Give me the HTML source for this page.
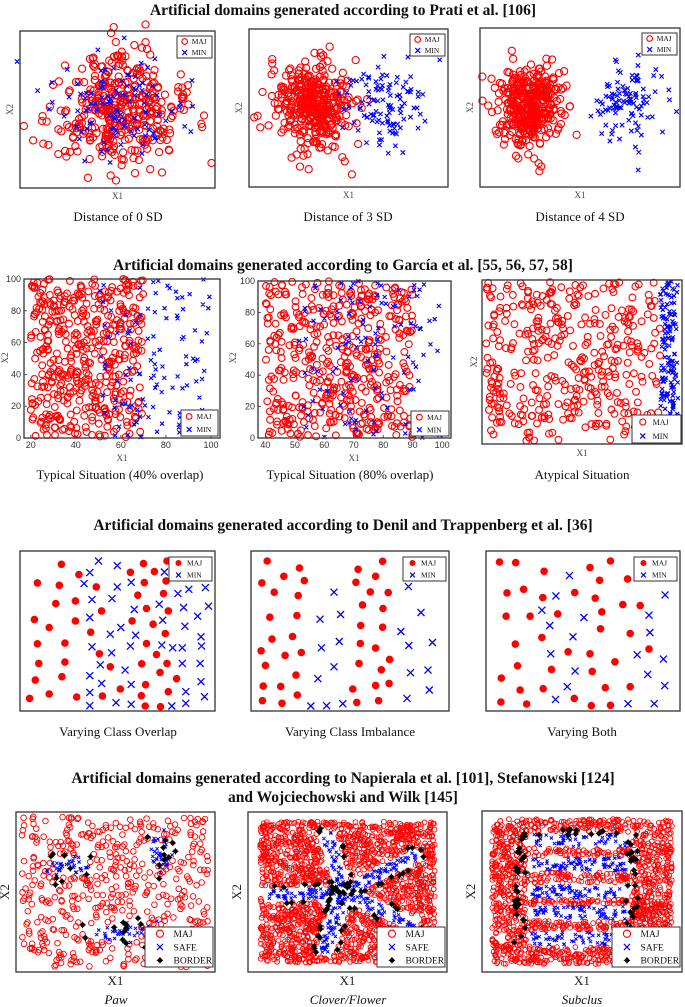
<!DOCTYPE html>
<html><head><meta charset="utf-8">
<style>
html,body{margin:0;padding:0;background:#fff;}
svg{display:block;font-family:"Liberation Serif",serif;}
</style></head>
<body>
<svg id="fig" width="685" height="1007" viewBox="0 0 685 1007" xmlns="http://www.w3.org/2000/svg">
<rect x="0" y="0" width="685" height="1007" fill="#fff"/>
<g font-weight="bold" font-size="15.5" text-anchor="middle" fill="#111">
<text x="343" y="15">Artificial domains generated according to Prati et al. [106]</text>
<text x="343" y="270">Artificial domains generated according to García et al. [55, 56, 57, 58]</text>
<text x="343" y="530">Artificial domains generated according to Denil and Trappenberg et al. [36]</text>
<text x="343" y="783">Artificial domains generated according to Napierala et al. [101], Stefanowski [124]</text>
<text x="343" y="802">and Wojciechowski and Wilk [145]</text>
</g>
<g font-size="13" text-anchor="middle" fill="#111">
<text x="118" y="221">Distance of 0 SD</text>
<text x="348" y="221">Distance of 3 SD</text>
<text x="580" y="221">Distance of 4 SD</text>
<text x="120" y="479">Typical Situation (40% overlap)</text>
<text x="350" y="479">Typical Situation (80% overlap)</text>
<text x="582" y="479">Atypical Situation</text>
<text x="118" y="736">Varying Class Overlap</text>
<text x="350" y="736">Varying Class Imbalance</text>
<text x="582" y="736">Varying Both</text>
<text x="116" y="1004" font-style="italic">Paw</text>
<text x="348" y="1004" font-style="italic">Clover/Flower</text>
<text x="582" y="1004" font-style="italic">Subclus</text>
</g>
</svg>
<script>
let seed = 12345;
function rnd(){ seed |= 0; seed = seed + 0x6D2B79F5 | 0; let t = Math.imul(seed ^ seed >>> 15, 1 | seed); t = t + Math.imul(t ^ t >>> 7, 61 | t) ^ t; return ((t ^ t >>> 14) >>> 0) / 4294967296; }
function gn(){ let u=rnd()||1e-9, v=rnd(); return Math.sqrt(-2*Math.log(u))*Math.cos(2*Math.PI*v); }
function gauss(n,mx,sx,my,sy){ const a=[]; for(let i=0;i<n;i++) a.push([mx+sx*gn(), my+sy*gn()]); return a; }
function unif(n,x0,x1,y0,y1,rej){ const a=[]; let k=0; while(a.length<n && k<n*20){ k++; const p=[x0+(x1-x0)*rnd(), y0+(y1-y0)*rnd()]; if(!rej||!rej(p)) a.push(p);} return a; }

const prati0Maj = gauss(380,0,1,0,1);
const prati0Min = gauss(110,0,1,0,1);
const prati3Maj = gauss(380,0,0.95,0,0.95);
const prati3Min = gauss(110,3.4,1.1,0.1,1.0);
const prati4Maj = gauss(380,-0.4,0.85,0,0.85);
const prati4Min = gauss(110,4.8,0.9,0.1,0.8);

const garcia40Maj = unif(450,20,70,0,100);
const garcia40Min = unif(110,50,100,0,100);
const garcia80Maj = unif(450,40,90,0,100);
const garcia80Min = unif(110,50,100,0,100);
const atypMaj = unif(380,1,89,0,100);
const atypMin = unif(170,89,98,0,100);
const garciaXTicks40 = [20,40,60,80,100];
const garciaXTicks80 = [40,50,60,70,80,90,100];
const garciaYTicks = [0,20,40,60,80,100];

const denilOverlapMaj = [[140,162],[180,193],[85,218],[135,225],[220,230],[127,280],[172,272],[232,302],[78,328],[112,352],[172,332],[207,366],[85,401],[148,399],[227,431],[88,460],[148,456],[252,470],[80,510],[141,500],[67,565],[112,552],[175,561],[234,558],[298,186],[328,160],[353,184],[382,152],[380,212],[330,217],[315,255],[374,250],[335,295],[385,302],[302,332],[350,342],[378,370],[335,400],[358,433],[324,461],[382,460],[366,487],[404,506],[333,524],[275,537],[323,557],[385,545],[332,588],[367,590]];
const denilOverlapMin = [[225,152],[268,166],[205,187],[192,220],[268,230],[300,216],[210,268],[256,265],[307,298],[364,282],[205,322],[276,352],[252,372],[310,375],[210,410],[255,428],[298,408],[229,464],[286,480],[205,497],[232,520],[300,523],[205,547],[205,587],[265,578],[300,583],[370,405],[395,413],[417,413],[372,330],[407,250],[432,237],[470,232],[420,292],[452,318],[477,288],[423,348],[460,380],[461,408],[417,460],[458,460],[460,515],[468,560],[425,545],[425,580],[393,588],[376,185]];
const denilImbMaj = [[612,152],[686,173],[650,198],[697,211],[600,218],[628,246],[683,256],[618,321],[680,316],[623,387],[670,379],[598,422],[653,436],[690,427],[608,466],[678,495],[603,528],[643,529],[681,555],[601,572],[646,580],[820,177],[876,153],[860,198],[815,216],[848,245],[889,247],[830,284],[877,295],[826,346],[876,351],[825,400],[860,414],[892,448],[822,460],[873,479],[860,526],[891,520],[808,537],[817,577],[867,572]];
const denilImbMin = [[765,246],[733,327],[780,313],[935,229],[964,307],[918,364],[936,406],[990,397],[777,394],[736,413],[765,470],[728,506],[940,488],[980,480],[983,540],[932,565],[712,588],[748,587],[785,581]];
const denilBothMaj = [[1143,155],[1180,157],[1245,183],[1350,172],[1397,152],[1372,210],[1436,206],[1160,248],[1198,237],[1242,262],[1315,247],[1362,264],[1425,283],[1465,286],[1158,318],[1213,318],[1276,311],[1377,305],[1374,356],[1442,370],[1240,382],[1179,402],[1300,425],[1350,431],[1485,417],[1184,467],[1262,478],[1355,484],[1407,455],[1147,504],[1190,540],[1243,536],[1314,565],[1385,533],[1442,530],[1146,576],[1205,582],[1353,587],[1397,586]];
const denilBothMin = [[1303,196],[1272,257],[1522,254],[1240,300],[1258,346],[1336,322],[1485,315],[1487,367],[1311,380],[1260,431],[1458,434],[1518,447],[1316,483],[1482,493],[1298,530],[1521,527],[1271,568],[1437,581],[1497,581]];

const pawCenters = [[0.27,0.34],[0.73,0.25],[0.52,0.75]];
const pawSafe = [].concat(gauss(35,0.27,0.05,0.34,0.035), gauss(35,0.73,0.03,0.25,0.05), gauss(35,0.52,0.07,0.75,0.03));
const pawBorder = [].concat(gauss(10,0.27,0.08,0.33,0.06), gauss(10,0.73,0.06,0.25,0.07), gauss(12,0.52,0.1,0.75,0.05));
const pawMaj = unif(470,0.03,0.97,0.03,0.97,p=>pawCenters.some(c=>Math.hypot((p[0]-c[0])*0.8,p[1]-c[1])<0.07));
const cloverCenter = [0.48,0.5];
const cloverTips = [[0.11,0.52],[0.4,0.15],[0.83,0.28],[0.82,0.7],[0.39,0.86]];
function segDist(p,a,b){ const dx=b[0]-a[0],dy=b[1]-a[1]; let t=((p[0]-a[0])*dx+(p[1]-a[1])*dy)/(dx*dx+dy*dy); t=Math.max(0,Math.min(1,t)); return Math.hypot(p[0]-a[0]-t*dx,p[1]-a[1]-t*dy); }
const cloverSafe = unif(260,0.08,0.9,0.1,0.9,p=>!cloverTips.some(t=>segDist(p,cloverCenter,t)<0.03));
const cloverBorder = unif(75,0.08,0.9,0.1,0.9,p=>!cloverTips.some(t=>{const d=segDist(p,cloverCenter,t);return d>0.045&&d<0.065||d<0.02&&Math.hypot(p[0]-cloverCenter[0],p[1]-cloverCenter[1])<0.06;}));
const cloverMaj = unif(1700,0.06,0.94,0.06,0.94,p=>cloverTips.some(t=>segDist(p,cloverCenter,t)<0.05));
const subBands = [0.18,0.33,0.5,0.63,0.79];
const subSafe = unif(330,0.25,0.72,0.13,0.84,p=>!subBands.some(b=>Math.abs(p[1]-b)<0.04));
const subBorder = unif(70,0.16,0.78,0.11,0.86,p=>{const onEdge=(Math.abs(p[0]-0.19)<0.03||Math.abs(p[0]-0.75)<0.03)||(Math.abs(p[1]-0.13)<0.02&&p[0]>0.2&&p[0]<0.75); return !onEdge;});
const subMaj = unif(1500,0.05,0.95,0.05,0.95,p=>subBands.some(b=>Math.abs(p[1]-b)<0.05)&&p[0]>0.22&&p[0]<0.75);

const NS='http://www.w3.org/2000/svg';
const fig=document.getElementById('fig');
function mk(tag,attrs,parent){ const e=document.createElementNS(NS,tag); for(const k in attrs) e.setAttribute(k,attrs[k]); parent.appendChild(e); return e; }
function scale(d0,d1,r0,r1){ return v=>r0+(v-d0)/(d1-d0)*(r1-r0); }

function panel(name,x,y,w,h,xd,yd){
  const g=mk('g',{},fig);
  
  
  return {g,x,y,w,h,sx:scale(xd[0],xd[1],x,x+w),sy:scale(yd[0],yd[1],y+h,y)};
}
function frame(P){
  const r=mk('rect',{x:P.x,y:P.y,width:P.w,height:P.h,fill:'none',stroke:'#333','stroke-width':1.3},P.g);
  
  
}
function circles(P,data,r,sw,name){
  const g=mk('g',{fill:'none',stroke:'#f00','stroke-width':sw},P.g);
  
  
  data.forEach(p=>{ const c=mk('circle',{cx:P.sx(p[0]).toFixed(1),cy:P.sy(p[1]).toFixed(1),r:r},g);
    
     });
}
function dots(P,data,r,color,name){
  const g=mk('g',{fill:color},P.g);
  
  
  data.forEach(p=>{ const c=mk('circle',{cx:P.sx(p[0]).toFixed(1),cy:P.sy(p[1]).toFixed(1),r:r},g);
    
     });
}
function crosses(P,data,s,sw,color,name){
  let d='';
  data.forEach(p=>{ const X=P.sx(p[0]),Y=P.sy(p[1]); d+=`M${(X-s).toFixed(1)} ${(Y-s).toFixed(1)}L${(X+s).toFixed(1)} ${(Y+s).toFixed(1)}M${(X+s).toFixed(1)} ${(Y-s).toFixed(1)}L${(X-s).toFixed(1)} ${(Y+s).toFixed(1)}`; });
  const e=mk('path',{d:d,stroke:color,'stroke-width':sw,fill:'none'},P.g);
  
  
}
function stars(P,data,name){
  const g=mk('g',{},P.g);
  
  
  data.forEach(p=>{ const X=P.sx(p[0]),Y=P.sy(p[1]);
    const c=mk('circle',{cx:X.toFixed(1),cy:Y.toFixed(1),r:2.3,fill:'#000'},g);
    
    
    mk('path',{d:`M${X-3.2} ${Y}L${X+3.2} ${Y}M${X} ${Y-3.2}L${X} ${Y+3.2}`,stroke:'#000','stroke-width':1},g); });
}
function label(x,y,str,size,name,rot,anchor,color,family){
  const t=mk('text',{x:x,y:y,'font-size':size,'text-anchor':anchor||'middle',fill:color||'#444'},fig);
  if(family) t.setAttribute('font-family',family);
  if(rot) t.setAttribute('transform',`rotate(-90 ${x} ${y})`);
  t.textContent=str;
  
  
  return t;
}
function legend(x,y,w,h,entries,fs){
  const g=mk('g',{},fig);
  
  
  mk('rect',{x:x,y:y,width:w,height:h,fill:'#fff',stroke:'#333','stroke-width':1},g);
  const step=h/entries.length;
  entries.forEach((en,i)=>{
    const cy=y+step*(i+0.5), mx=x+w*0.22;
    if(en.m==='o') mk('circle',{cx:mx,cy:cy,r:fs*0.38,fill:'none',stroke:'#f00','stroke-width':1.1},g);
    if(en.m==='f') mk('circle',{cx:mx,cy:cy,r:fs*0.4,fill:'#f00'},g);
    if(en.m==='x'){ const s=fs*0.32; mk('path',{d:`M${mx-s} ${cy-s}L${mx+s} ${cy+s}M${mx+s} ${cy-s}L${mx-s} ${cy+s}`,stroke:'#00f','stroke-width':1.2},g); }
    if(en.m==='*'){ mk('circle',{cx:mx,cy:cy,r:2.3,fill:'#000'},g); mk('path',{d:`M${mx-3.2} ${cy}L${mx+3.2} ${cy}M${mx} ${cy-3.2}L${mx} ${cy+3.2}`,stroke:'#000','stroke-width':1},g); }
    const t=mk('text',{x:x+w*0.42,y:cy+fs*0.35,'font-size':fs,fill:'#111'},g);
    t.textContent=en.t;
    
    
  });
}
function ticks(P,xt,yt){
  const g=mk('g',{stroke:'#333','stroke-width':0.8},P.g);
  
  
  xt.forEach(v=>{ const X=P.sx(v); mk('line',{x1:X,y1:P.y+P.h,x2:X,y2:P.y+P.h-3},g);
    label(X,P.y+P.h+10,String(v),9,'x-tick-label',false,'middle','#333','Liberation Sans, sans-serif'); });
  yt.forEach(v=>{ const Y=P.sy(v); mk('line',{x1:P.x,y1:Y,x2:P.x+3,y2:Y},g);
    label(P.x-3,Y+3,String(v),9,'y-tick-label',false,'end','#333','Liberation Sans, sans-serif'); });
}

const legP=[{m:'o',t:'MAJ'},{m:'x',t:'MIN'}];
[[prati0Maj,prati0Min,20,31,195,157,[-3.0,3.0],[-2.8,2.8]],[prati3Maj,prati3Min,249,29,199,158,[-3.3,6.8],[-3.4,3.2]],[prati4Maj,prati4Min,480,28,200,159,[-3.0,7.5],[-3.4,3.2]]].forEach((c,i)=>{
  const P=panel('prati-panel-'+i,c[2],c[3],c[4],c[5],c[6],c[7]);
  circles(P,c[0],3.6,1.1,'maj-series'); crosses(P,c[1],2.2,1.1,'#00f','min-series'); frame(P);
  legend(c[2]+c[4]-38,c[3]+5,35,22,legP,7.5);
  label(c[2]-7,c[3]+c[5]/2,'X2',9,'y-axis-title',true);
  label(c[2]+c[4]/2,c[3]+c[5]+11,'X1',9,'x-axis-title');
});

(function(){
  let P=panel('garcia-40-panel',24,279,196,159,[17,104],[0,100]);
  circles(P,garcia40Maj,3.4,1.1,'maj-series'); crosses(P,garcia40Min,2,1.1,'#00f','min-series'); frame(P); ticks(P,garciaXTicks40,garciaYTicks);
  legend(181,410,37,26,legP,7.5);
  label(8,358,'X2',9,'y-axis-title',true); label(122,461,'X1',9,'x-axis-title');
  P=panel('garcia-80-panel',258,281,193,157,[37.5,103],[0,100]);
  circles(P,garcia80Maj,3.4,1.1,'maj-series'); crosses(P,garcia80Min,2,1.1,'#00f','min-series'); frame(P); ticks(P,garciaXTicks80,garciaYTicks);
  legend(411,411,38,25,legP,7.5);
  label(236,358,'X2',9,'y-axis-title',true); label(354,461,'X1',9,'x-axis-title');
  P=panel('atypical-panel',482,280,200,164,[-1,100],[-2,101]);
  circles(P,atypMaj,3.4,1.1,'maj-series'); crosses(P,atypMin,2,1.1,'#00f','min-series'); frame(P);
  legend(632,415,49,28,legP,8);
  label(477,362,'X2',9,'y-axis-title',true); label(582,456,'X1',9,'x-axis-title');
})();

const legD=[{m:'f',t:'MAJ'},{m:'x',t:'MIN'}];
[[denilOverlapMaj,denilOverlapMin,20,551,195,160,[45,492]],[denilImbMaj,denilImbMin,251,551,198,160,[575,1028]],[denilBothMaj,denilBothMin,486,551,194,160,[1112,1556]]].forEach((c,i)=>{
  const P=panel('denil-panel-'+i,c[2],c[3],c[4],c[5],c[6],[603,122]);
  dots(P,c[0],3.8,'#f00','maj-series'); crosses(P,c[1],3.5,1.3,'#00f','min-series'); frame(P);
  legend(c[2]+c[4]-46,c[3]+6,43,24,legD,7.5);
});

const legN=[{m:'o',t:'MAJ'},{m:'x',t:'SAFE'},{m:'*',t:'BORDER'}];
[[pawMaj,pawSafe,pawBorder,16,812,199,160,2.8,'paw'],[cloverMaj,cloverSafe,cloverBorder,248,812,199,160,2.4,'clover'],[subMaj,subSafe,subBorder,482,811,200,161,2.4,'subclus']].forEach(c=>{
  const P=panel(c[8]+'-panel',c[3],c[4],c[5],c[6],[0,1],[1,0]);
  circles(P,c[0],c[7],0.9,'maj-series'); crosses(P,c[1],1.6,1,'#00f','safe-series'); stars(P,c[2],'border-series'); frame(P);
  legend(c[3]+c[5]-70,c[4]+c[6]-45,68,40,legN,9.5);
  label(c[3]-7,c[4]+c[6]/2,'X2',13,'y-axis-title',true,'middle','#222');
  label(c[3]+c[5]/2,985,'X1',13,'x-axis-title','', 'middle','#222');
});
</script>
</body></html>
